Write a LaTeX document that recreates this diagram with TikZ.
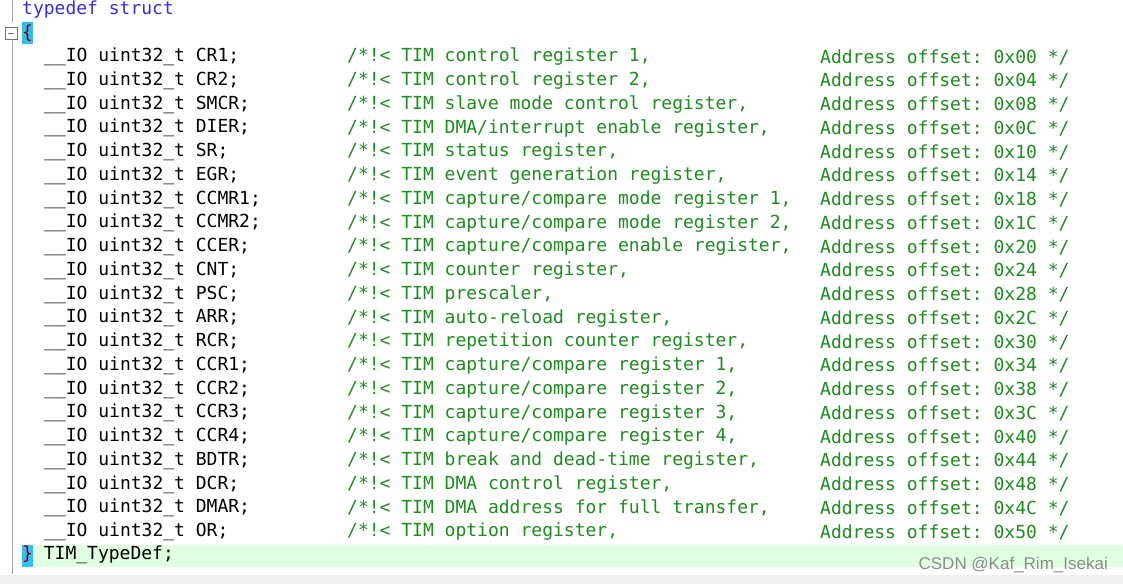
\documentclass[tikz,border=0pt]{standalone}
\usepackage{fontspec}
\setmonofont{DejaVu Sans Mono}
\setsansfont{Liberation Sans}
\definecolor{kw}{HTML}{3A2FD0}
\definecolor{cm}{HTML}{1E8C1E}
\definecolor{br}{HTML}{8B0000}
\newcommand\slsh{/}
\begin{document}
\begin{tikzpicture}[x=1pt,y=-1pt,
  code/.style={anchor=west,inner sep=0pt,font=\ttfamily\fontsize{18}{18}\selectfont},
  cmt/.style={code,text=cm}]
\useasboundingbox (0,0) rectangle (1123,584);
\fill[white] (0,0) rectangle (1123,584);
\fill[black!6] (0,575) rectangle (1123,584);
\draw[black!35,line width=1pt] (12,0) -- (12,22) (12,38) -- (12,574);
\draw[black!55,fill=white] (5,27) rectangle (17,39);
\draw[black!55] (8,33) -- (14,33);
\fill[green!12] (22,545) rectangle (1123,567);
\fill[cyan!80] (22,22) rectangle (33,44);
\fill[cyan!80] (22,545) rectangle (33,567);
\node[code,text=kw] (t) at (22,10) {typedef struct};
\node[code,text=br] (ob) at (22,33) {\{};
\foreach \i/\reg/\txt/\off in {
0/CR1;/{TIM control register 1,}/0x00,
1/CR2;/{TIM control register 2,}/0x04,
2/SMCR;/{TIM slave mode control register,}/0x08,
3/DIER;/{TIM DMA\slsh interrupt enable register,}/0x0C,
4/SR;/{TIM status register,}/0x10,
5/EGR;/{TIM event generation register,}/0x14,
6/CCMR1;/{TIM capture\slsh compare mode register 1,}/0x18,
7/CCMR2;/{TIM capture\slsh compare mode register 2,}/0x1C,
8/CCER;/{TIM capture\slsh compare enable register,}/0x20,
9/CNT;/{TIM counter register,}/0x24,
10/PSC;/{TIM prescaler,}/0x28,
11/ARR;/{TIM auto-reload register,}/0x2C,
12/RCR;/{TIM repetition counter register,}/0x30,
13/CCR1;/{TIM capture\slsh compare register 1,}/0x34,
14/CCR2;/{TIM capture\slsh compare register 2,}/0x38,
15/CCR3;/{TIM capture\slsh compare register 3,}/0x3C,
16/CCR4;/{TIM capture\slsh compare register 4,}/0x40,
17/BDTR;/{TIM break and dead-time register,}/0x44,
18/DCR;/{TIM DMA control register,}/0x48,
19/DMAR;/{TIM DMA address for full transfer,}/0x4C,
20/OR;/{TIM option register,}/0x50}{
  \node[code] (f\i) at (44,57+23.75*\i) {\_\_IO uint32\_t \reg};
  \node[cmt] (c\i) at (347,57+23.75*\i) {\slsh*!< \txt};
  \node[cmt] (a\i) at (820,57+23.75*\i) {Address offset: \off{} */};
}
\node[code] (cb) at (22,555) {\textcolor{br}{\}} TIM\_TypeDef;};
\node[anchor=east,inner sep=0pt,text=black!45,font=\sffamily\fontsize{17}{17}\selectfont] (wm) at (1108,565) {CSDN @Kaf\_Rim\_Isekai};
\end{tikzpicture}
\end{document}
